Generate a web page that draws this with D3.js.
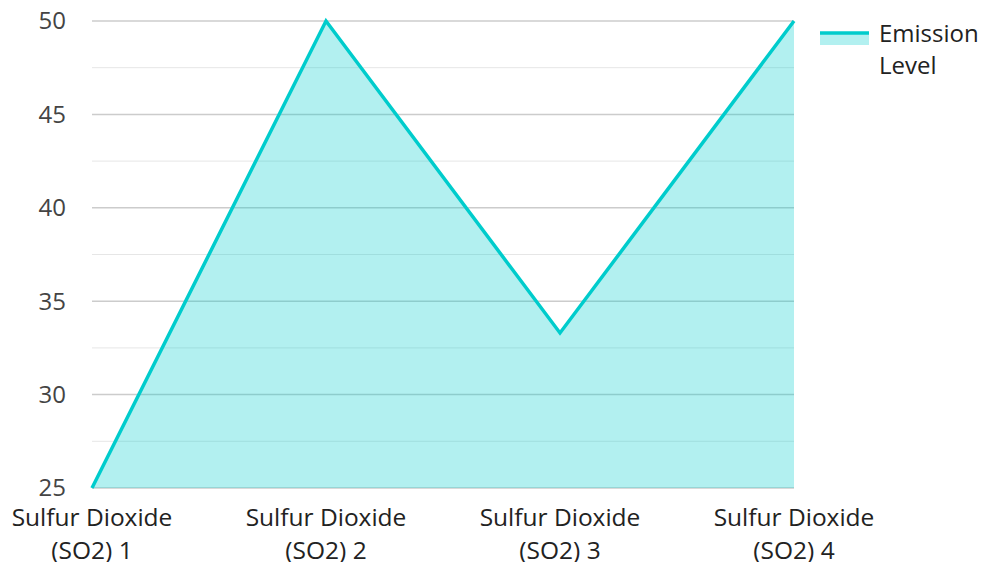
<!DOCTYPE html>
<html><head><meta charset="utf-8">
<script src="https://cdn.jsdelivr.net/npm/d3@7"></script>
<style>body{margin:0;background:#fff}svg{display:block;font-family:"Open Sans",sans-serif}</style>
</head><body><div id="chart"></div>
<script>
const categories = ["Sulfur Dioxide (SO2) 1","Sulfur Dioxide (SO2) 2","Sulfur Dioxide (SO2) 3","Sulfur Dioxide (SO2) 4"];
const xLabelLines = [["Sulfur Dioxide","(SO2) 1"],["Sulfur Dioxide","(SO2) 2"],["Sulfur Dioxide","(SO2) 3"],["Sulfur Dioxide","(SO2) 4"]];
const emissionLevel = [25, 50, 33.3, 50];
const yTicks = [25, 30, 35, 40, 45, 50];
const yMinorTicks = [27.5, 32.5, 37.5, 42.5, 47.5];
const seriesName = ["Emission", "Level"];

(function(){
const W = 984, H = 562;
const mL = 92, mR = 794, mT = 21, mB = 488;
const svg = d3.select("#chart").append("svg").attr("width", W).attr("height", H);
const x = d3.scalePoint().domain(categories).range([mL, mR]);
const y = d3.scaleLinear().domain([25, 50]).range([mB, mT]);

svg.append("g").selectAll("line").data(yMinorTicks).join("line")
  .attr("x1", mL).attr("x2", mR).attr("y1", d => y(d)).attr("y2", d => y(d))
  .attr("stroke", "#e6e6e6").attr("stroke-width", 1);
svg.append("g").selectAll("line").data(yTicks).join("line")
  .attr("x1", mL).attr("x2", mR).attr("y1", d => y(d)).attr("y2", d => y(d))
  .attr("stroke", "#cccccc").attr("stroke-width", 1.5);

const data = categories.map((c, i) => ({c, v: emissionLevel[i]}));
svg.append("path").datum(data)
  .attr("d", d3.area().x(d => x(d.c)).y0(y(25)).y1(d => y(d.v)))
  .attr("fill", "#00cccc").attr("fill-opacity", 0.3);
svg.append("path").datum(data)
  .attr("d", d3.line().x(d => x(d.c)).y(d => y(d.v)))
  .attr("fill", "none").attr("stroke", "#00cccc").attr("stroke-width", 3.5).attr("stroke-linejoin", "miter");

svg.append("g").selectAll("text").data(yTicks).join("text")
  .attr("x", 66).attr("y", d => y(d)).attr("dy", "0.35em").attr("text-anchor", "end")
  .attr("font-size", 24).attr("fill", "#444").text(d => d);

const xl = svg.append("g").selectAll("text").data(categories).join("text")
  .attr("text-anchor", "middle").attr("font-size", 24.5).attr("fill", "#222")
  .attr("x", d => x(d)).attr("y", 526);
xl.each(function(d, i) {
  const t = d3.select(this);
  xLabelLines[i].forEach((ln, j) => t.append("tspan").attr("x", x(d)).attr("dy", j ? 33 : 0).text(ln));
});

const lg = svg.append("g");
lg.append("rect").attr("x", 820).attr("y", 33).attr("width", 49).attr("height", 12).attr("fill", "#00cccc").attr("fill-opacity", 0.3);
lg.append("line").attr("x1", 820).attr("x2", 869).attr("y1", 33).attr("y2", 33).attr("stroke", "#00cccc").attr("stroke-width", 3.5);
const lt = lg.append("text").attr("x", 879).attr("y", 42).attr("font-size", 24).attr("fill", "#222");
seriesName.forEach((s, j) => lt.append("tspan").attr("x", 879).attr("dy", j ? 32 : 0).text(s));
})();
</script></body></html>
